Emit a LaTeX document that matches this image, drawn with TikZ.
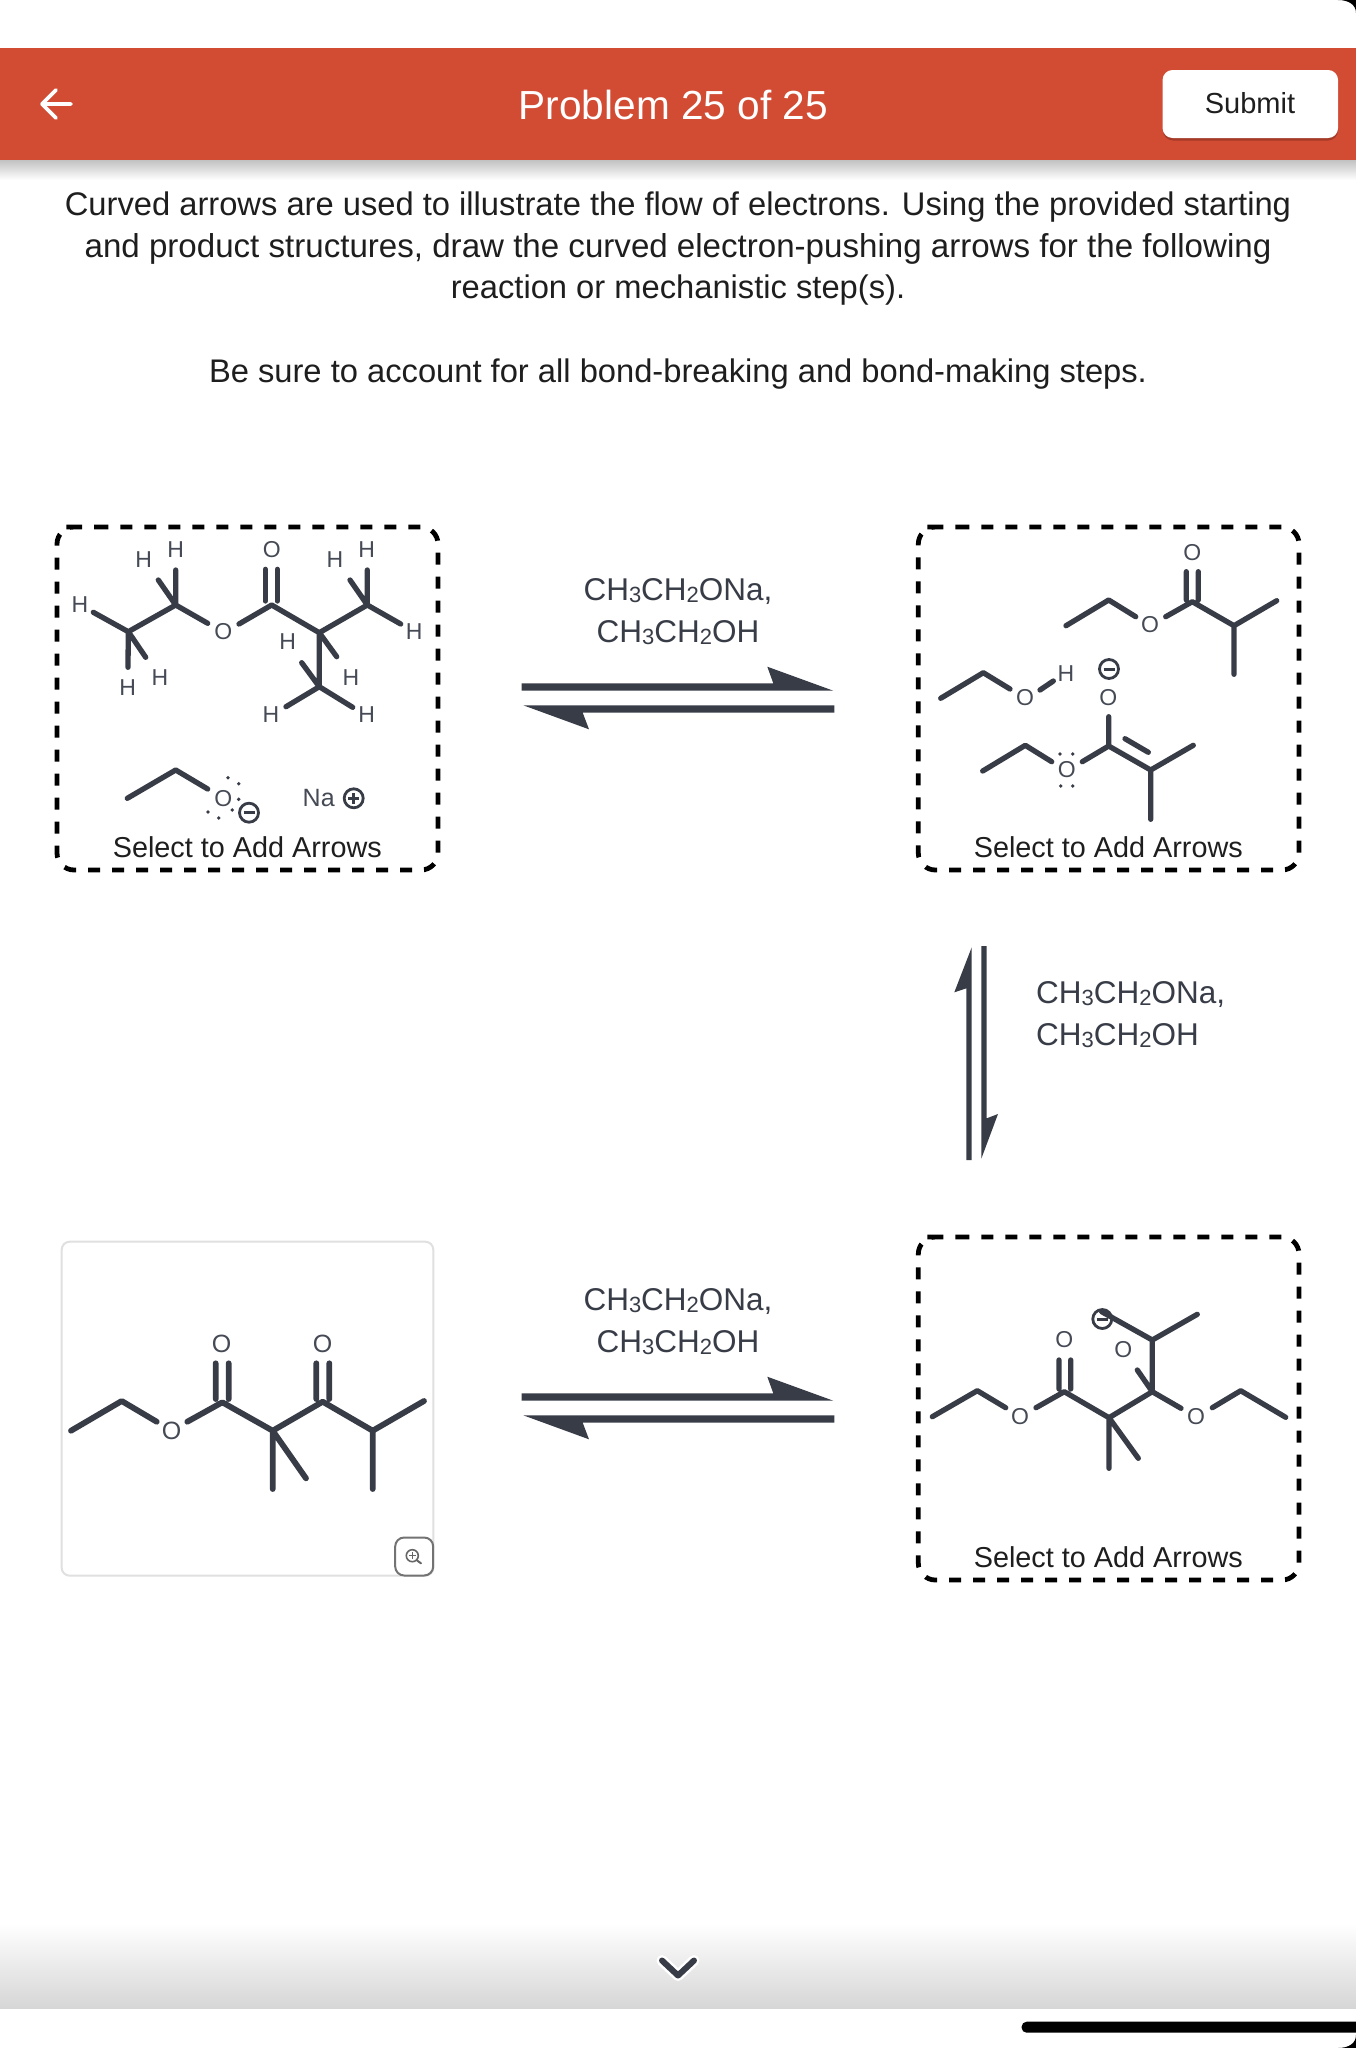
\documentclass[tikz,border=0pt]{standalone}
\usepackage{fontspec}
\setmainfont{Liberation Sans}
\definecolor{ink}{HTML}{383C47}
\definecolor{inkl}{HTML}{454A55}
\definecolor{hdr}{HTML}{D24B33}
\definecolor{txt}{HTML}{1E1E1E}
\newcommand{\sz}[1]{\fontsize{#1}{#1}\selectfont}
\newcommand{\sbs}[1]{\raisebox{-2pt}{\sz{22}#1}}
\tikzset{
 bond/.style={draw=ink,line width=5.3pt,line cap=round,line join=round},
 lbl/.style={font=\sz{23},text=inkl,inner sep=0pt},
 bodytxt/.style={font=\sz{32.7},text=txt,inner sep=0pt,anchor=base},
 rxn/.style={font=\sz{31.5},text=ink,inner sep=0pt,anchor=base west,align=left},
 rxnc/.style={font=\sz{31.5},text=ink,inner sep=0pt,anchor=base},
 sel/.style={font=\sz{28.8},text=txt,inner sep=0pt,anchor=base},
 dashbox/.style={draw=black,line width=4.8pt,rounded corners=17pt,dash pattern=on 12pt off 12pt},
 minusc/.style={circle,draw=ink,line width=2.8pt,minimum size=19pt,inner sep=0pt,path picture={\draw[ink,line width=3pt] ([xshift=-5.5pt]path picture bounding box.center)--([xshift=5.5pt]path picture bounding box.center);}},
 plusc/.style={circle,draw=ink,line width=2.8pt,minimum size=19pt,inner sep=0pt,path picture={\draw[ink,line width=3pt] ([xshift=-5.5pt]path picture bounding box.center)--([xshift=5.5pt]path picture bounding box.center) ([yshift=-5.5pt]path picture bounding box.center)--([yshift=5.5pt]path picture bounding box.center);}},
 eqarrows/.pic={
  \fill[ink] (521.7,683.3)--(773.3,683.3)--(767.3,666.7)--(833.3,690.7)--(521.7,690.7)--cycle;
  \fill[ink] (834.3,705.3)--(523.3,705.3)--(589,729.3)--(582.7,712.7)--(834.3,712.7)--cycle;
 }
}
\begin{document}
\begin{tikzpicture}[x=1pt,y=-1pt]
\useasboundingbox (0,0) rectangle (1356,2048);
\fill[white] (0,0) rectangle (1356,2048);
% screen corners
\fill[black] (1338,0) .. controls (1349,0) and (1356,5) .. (1356,13) -- (1356,0) -- cycle;
\fill[black] (1338,2048) .. controls (1349,2048) and (1356,2043) .. (1356,2035) -- (1356,2048) -- cycle;
% header
\shade[top color=black!24,bottom color=white] (0,160) rectangle (1356,180);
\fill[hdr] (0,48) rectangle (1356,160);
\fill[black!22!hdr,rounded corners=10pt] (1163,72) rectangle (1338,140.5);
\node[draw=none,fill=white,rounded corners=10pt,minimum width=175.5pt,minimum height=68pt,inner sep=0pt] (submit) at (1250.3,104) {};
\node[font=\sz{29},text=txt,inner sep=0pt] (submitlbl) at (1250,103.5) {Submit};
\node[font=\sz{40.6},text=white,inner sep=0pt] (title) at (673.3,104.5) {Problem 25 of 25};
\coordinate (backa) at (71,104); \coordinate (backb) at (42,104); \coordinate (backc) at (56,90); \coordinate (backd) at (56,118);
\draw[white,line width=3.6pt,line cap=round,line join=round] (backa)--(backb) (backc)--(backb)--(backd);
% prose
\node[bodytxt] (p1) at (678,215) {Curved arrows are used to illustrate the flow of electrons. Using the provided starting};
\node[bodytxt,font=\sz{33.1}] (p2) at (678,257) {and product structures, draw the curved electron-pushing arrows for the following};
\node[bodytxt] (p3) at (678,298.5) {reaction or mechanistic step(s).};
\node[bodytxt] (p4) at (678,382.5) {Be sure to account for all bond-breaking and bond-making steps.};
% boxes
\draw[dashbox] (79.3,527)--(438,527)--(438,870)--(57,870)--(57,527)--cycle;
\draw[dashbox] (940.3,527)--(1299,527)--(1299,870)--(918.3,870)--(918.3,527)--cycle;
\draw[dashbox] (940.3,1237)--(1299,1237)--(1299,1580)--(918.3,1580)--(918.3,1237)--cycle;
\draw[draw=black!12,line width=2pt,rounded corners=8pt] (61.7,1241.7) rectangle (433.3,1575.7);
% selects
\node[sel] (s1) at (247.3,857) {Select to Add Arrows};
\node[sel] (s2) at (1108.3,857) {Select to Add Arrows};
\node[sel] (s3) at (1108.3,1567) {Select to Add Arrows};
% reaction labels
\node[rxnc] (r1a) at (678,600) {CH\sbs{3}CH\sbs{2}ONa,};
\node[rxnc] (r1b) at (678,642) {CH\sbs{3}CH\sbs{2}OH};
\node[rxn] (r2a) at (1036,1003) {CH\sbs{3}CH\sbs{2}ONa,};
\node[rxn] (r2b) at (1036,1045) {CH\sbs{3}CH\sbs{2}OH};
\node[rxnc] (r3a) at (678,1310) {CH\sbs{3}CH\sbs{2}ONa,};
\node[rxnc] (r3b) at (678,1352) {CH\sbs{3}CH\sbs{2}OH};
% equilibrium arrows
\pic at (0,0) {eqarrows};
\pic at (0,710) {eqarrows};
\fill[ink] (966.3,1160)--(966.3,988.3)--(954.3,992.3)--(971.7,947.3)--(971.7,1160)--cycle;
\fill[ink] (986.7,946)--(986.7,1118.3)--(998,1114)--(981.3,1158.7)--(981.3,946)--cycle;
% --- Structure 1 ---
\foreach \n/\x/\y in {a1/128.3/631.7,a2/175.7/605,a3/207.7/623.3,a4/239/624,a5/271.7/605,a6/319.3/632.7,a7/367.3/605,a8/319.3/686.7,
 ah1/93.3/612.3,ah2/128/667.3,ah3/145.7/657.3,ah4/175.7/570,ah5/158.3/580,ah6/367.3/570,ah7/350/580,ah8/400.7/624,ah9/336.7/656.7,ah10/301.7/662.7,ah11/286/706.7,ah12/352.7/707.3,
 ad1/265.3/569.3,ad2/265.3/601,ad3/277.3/569.3,ad4/277.3/601,
 e1/127.3/798.3,e2/175.7/770,e3/207.7/789}
  {\coordinate (\n) at (\x,\y);}
\draw[bond] (ah1)--(a1)--(a2)--(a3) (ah2)--(a1)--(ah3) (ah4)--(a2)--(ah5);
\draw[bond] (a4)--(a5)--(a6)--(a7)--(ah8) (ah6)--(a7)--(ah7) (a6)--(a8) (a6)--(ah9) (ah10)--(a8) (ah11)--(a8)--(ah12);
\draw[bond] (ad1)--(ad2) (ad3)--(ad4);
\draw[bond] (e1)--(e2)--(e3);
\foreach \n/\x/\y/\t in {ln1/80/605/H,ln2/127.7/687.7/H,ln3/160/677.7/H,ln4/143.7/560/H,ln5/175.7/550/H,ln6/223.3/631.7/O,ln7/271.7/550/O,ln8/335/560/H,ln9/366.7/550/H,ln10/414.3/631.7/H,ln11/287.7/641.7/H,ln12/351/677.7/H,ln13/271/714.3/H,ln14/366.7/714.3/H,ln15/223.3/798.3/O}
  {\node[lbl] (\n) at (\x,\y) {\t};}
\foreach \x/\y in {228/777.7,238.7/783.7,238.7/799.3,232.3/810,208/812,218.7/818}
  {\fill[ink] (\x,\y) circle (1.9pt);}
\node[minusc] (am) at (249,812.7) {};
\node[lbl,font=\sz{25}] (na) at (318.7,798.3) {Na};
\node[plusc] (ap) at (353.7,798.3) {};
% --- Structure 2 ---
\foreach \n/\x/\y in {b1/1066/625.7,b2/1108.7/600,b3/1135.7/616.7,b4/1165.7/616.7,b5/1192.3/601.7,b6/1234/625.7,b7/1276.7/600.7,b8/1234/674.3,
 bd1/1186.3/571.7,bd2/1186.3/600,bd3/1198.3/571.7,bd4/1198.3/600,
 f1/940.7/698.3,f2/983.3/672.7,f3/1010/689,f4/1040/690,f5/1053.3/681,
 g0/1108.7/716.7,g1/982.7/771,g2/1025.3/745.3,g3/1051.7/761.7,g4/1082.3/761.7,g5/1108.7/746,g6/1150.7/770,g7/1193.3/745.3,g8/1150.7/819.3,g9/1125/738.7,g10/1148.3/752.3}
  {\coordinate (\n) at (\x,\y);}
\draw[bond] (b1)--(b2)--(b3) (b4)--(b5)--(b6)--(b7) (b6)--(b8) (bd1)--(bd2) (bd3)--(bd4);
\draw[bond] (f1)--(f2)--(f3) (f4)--(f5);
\draw[bond] (g1)--(g2)--(g3) (g4)--(g5)--(g6)--(g7) (g6)--(g8) (g0)--(g5) (g9)--(g10);
\foreach \n/\x/\y/\t in {mo1/1150/624.3/O,mo2/1192.3/552.7/O,mo3/1025/697.3/O,mo4/1066/673.3/H,mo5/1108.3/697.3/O,mo6/1066.7/770/O}
  {\node[lbl] (\n) at (\x,\y) {\t};}
\node[minusc] (bm) at (1109,669) {};
\foreach \x/\y in {1060/754,1072.7/754,1060.7/786,1072.7/786}
  {\fill[ink] (\x,\y) circle (1.9pt);}
% --- Structure 3 ---
\foreach \n/\x/\y in {c1/932.3/1416.7,c2/977.3/1390.7,c3/1005.7/1407.7,c4/1036/1407.7,c5/1064.3/1391.7,c6/1109/1417.7,c7/1152.3/1391.7,c8/1109/1468.3,c9/1138.3/1458.3,c10/1181/1408.3,c11/1212.3/1407.7,c12/1240.7/1390.7,c13/1285.7/1417.3,c14/1152.3/1340,c15/1197.3/1314.3,c16/1101.7/1311.7,c17/1137.3/1370,
 cd1/1059/1360,cd2/1059/1389,cd3/1070.7/1360,cd4/1070.7/1389}
  {\coordinate (\n) at (\x,\y);}
\draw[bond] (c1)--(c2)--(c3) (c4)--(c5)--(c6)--(c7)--(c10) (c6)--(c8) (c6)--(c9) (c11)--(c12)--(c13) (c7)--(c14)--(c15) (c14)--(c16) (c7)--(c17) (cd1)--(cd2) (cd3)--(cd4);
\foreach \n/\x/\y in {no1/1020/1416.7,no2/1064.3/1340,no3/1196/1416.7,no4/1123.3/1350}
  {\node[lbl] (\n) at (\x,\y) {O};}
\node[minusc] (cm) at (1102.3,1319) {};
% --- Structure 4 ---
\foreach \n/\x/\y in {d1/71/1430.7,d2/121.7/1401,d3/156.7/1421.7,d4/187.3/1421.7,d5/222.3/1402.3,d6/272.7/1430.7,d7/322.7/1401.7,d8/372.7/1430.7,d9/424/1401,d10/372.7/1489,d11/272.7/1489,d12/306/1478.3,
 dd1/215.7/1363.3,dd2/215.7/1399,dd3/228.7/1363.3,dd4/228.7/1399,dd5/316.3/1363.3,dd6/316.3/1399,dd7/329.3/1363.3,dd8/329.3/1399}
  {\coordinate (\n) at (\x,\y);}
\draw[bond,line width=5.8pt] (d1)--(d2)--(d3) (d4)--(d5)--(d6)--(d7)--(d8)--(d9) (d8)--(d10) (d6)--(d11) (d6)--(d12) (dd1)--(dd2) (dd3)--(dd4) (dd5)--(dd6) (dd7)--(dd8);
\foreach \n/\x/\y in {po1/171.7/1430.7,po2/221.7/1344,po3/322.7/1344}
  {\node[lbl,font=\sz{25}] (\n) at (\x,\y) {O};}
% zoom button
\node[draw=black!55,fill=white,line width=2pt,rounded corners=9pt,minimum size=38pt,inner sep=0pt] (zb) at (414.2,1556.5) {};
\node[circle,draw=black!60,line width=1.6pt,minimum size=12pt,inner sep=0pt] (zl) at (412.3,1555.7) {};
\coordinate (zh) at (421,1563.3);
\draw[black!60,line width=2pt,line cap=round] (zl.south east)--(zh);
\draw[black!60,line width=1.2pt] (409,1555.7)--(415.6,1555.7) (412.3,1552.4)--(412.3,1559);
% bottom
\shade[top color=white,bottom color=black!16] (0,1923) rectangle (1356,2008);
\coordinate (cha) at (662,1960.5); \coordinate (chb) at (678,1975.5); \coordinate (chc) at (694,1960.5);
\draw[white,line width=11pt,line cap=round,line join=round] (cha)--(chb)--(chc);
\draw[ink,line width=6pt,line cap=round,line join=round] (cha)--(chb)--(chc);
\fill[black,rounded corners=5pt] (1021.6,2021.7) rectangle (1370,2032.7);
\end{tikzpicture}
\end{document}
